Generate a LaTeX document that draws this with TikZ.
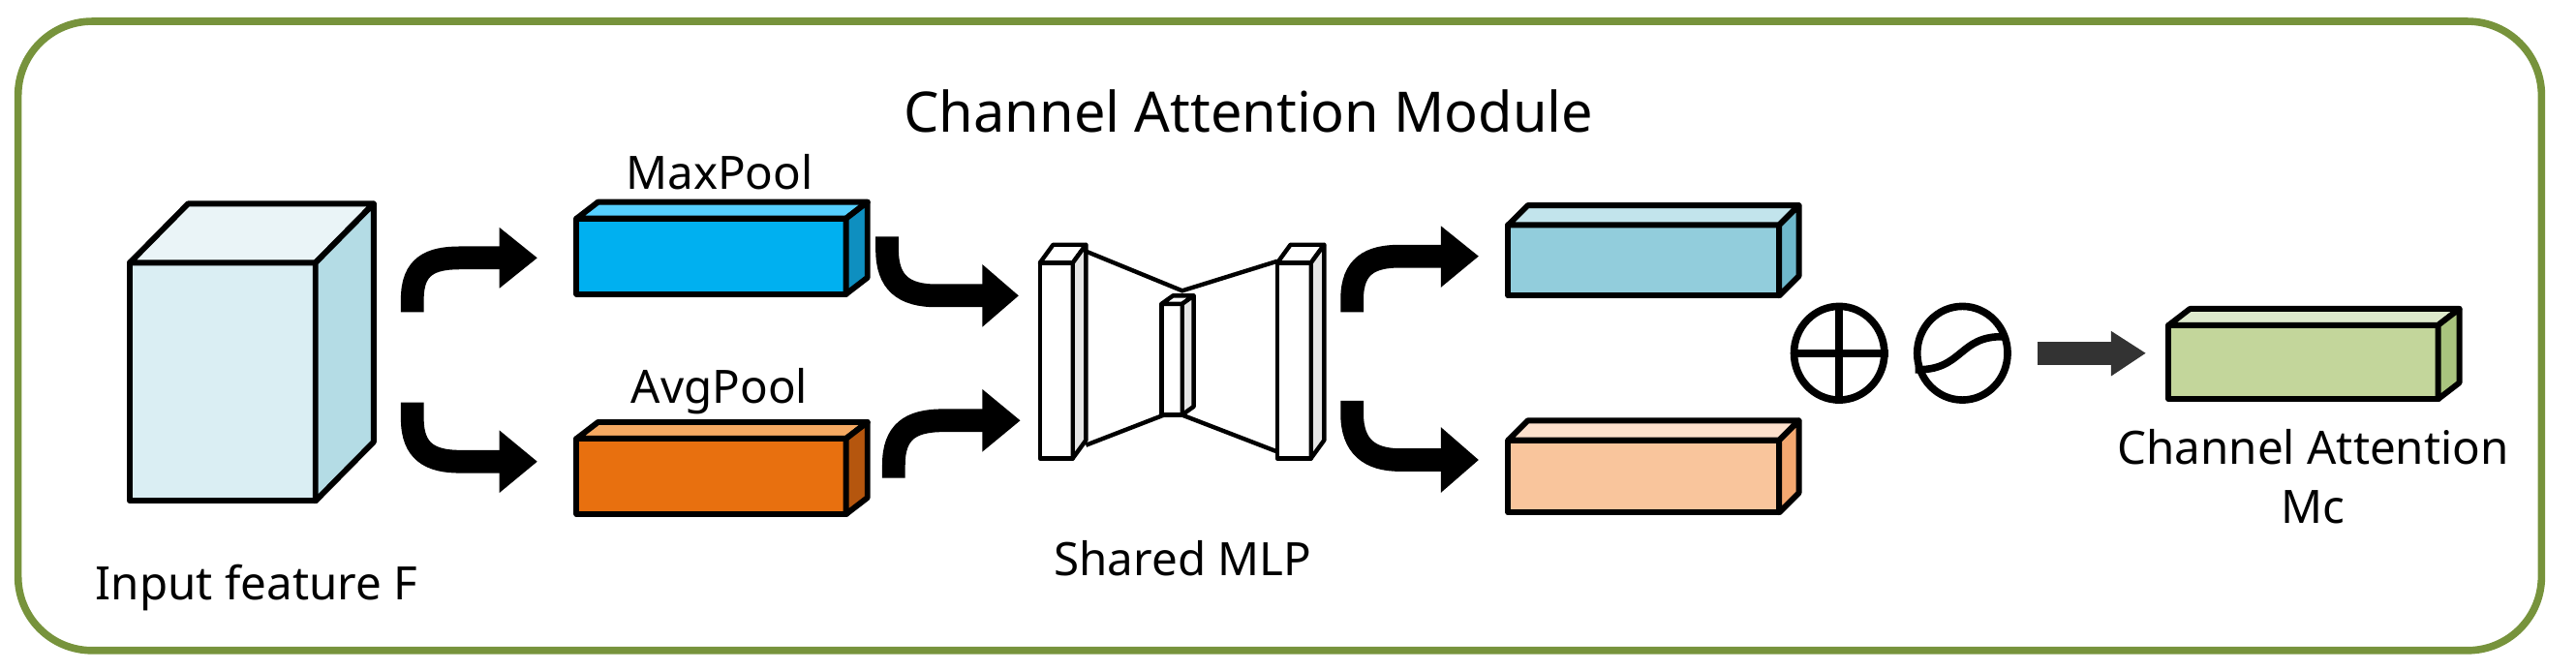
\documentclass[tikz,border=0pt]{standalone}
\usepackage{fontspec}
\setmainfont{Noto Sans}
\usetikzlibrary{shapes.geometric}
\begin{document}
\definecolor{bordergreen}{HTML}{77933C}
\definecolor{cubeF}{HTML}{DAEEF3}\definecolor{cubeT}{HTML}{EAF4F7}\definecolor{cubeS}{HTML}{B4DCE5}
\definecolor{maxF}{HTML}{00B0F0}\definecolor{maxT}{HTML}{55CFFF}\definecolor{maxS}{HTML}{0E8FC0}
\definecolor{avgF}{HTML}{E8700F}\definecolor{avgT}{HTML}{F5A962}\definecolor{avgS}{HTML}{B5560E}
\definecolor{oaF}{HTML}{92CDDC}\definecolor{oaT}{HTML}{C2E4EC}\definecolor{oaS}{HTML}{6FB8CC}
\definecolor{obF}{HTML}{F9C59C}\definecolor{obT}{HTML}{FDE0CC}\definecolor{obS}{HTML}{F4A870}
\definecolor{gF}{HTML}{C3D69B}\definecolor{gT}{HTML}{DDE9CB}\definecolor{gS}{HTML}{A9C47E}
\definecolor{mlpS}{HTML}{E6E6E6}
\newcommand\cuboid[9]{%
  \filldraw[box,fill=#7] (#1,#2) rectangle (#3,#4);
  \filldraw[box,fill=#8] (#1,#2) -- ++(#5,-#6) -- ++(#3-#1,0) -- (#3,#2) -- cycle;
  \filldraw[box,fill=#9] (#3,#2) -- ++(#5,-#6) -- ++(0,#4-#2) -- (#3,#4) -- cycle;}
\begin{tikzpicture}[x=1pt,y=-1pt,
  box/.style={draw=black,line width=3.5pt,line join=round},
  lbl/.style={font=\fontsize{28}{30}\selectfont,inner sep=0pt},
  blk/.style={line width=14pt,draw=black},
  head/.style={fill=black,draw=none},
  op/.style={draw=black,line width=4.5pt}]
\useasboundingbox (0,0) rectangle (1568,408);
\draw[draw=bordergreen,line width=4.5pt,rounded corners=45pt] (11,13) rectangle (1547,396);
\node[font=\fontsize{34}{36}\selectfont,inner sep=0pt] (title) at (760,68) {Channel Attention Module};
% input cube
\cuboid{79}{160}{192}{305}{35.5}{36}{cubeF}{cubeT}{cubeS}
\node[lbl,anchor=base west] (inp) at (58,365) {Input feature \textbf{F}};
% pooled vectors
\cuboid{351}{133}{515}{179}{13}{10}{maxF}{maxT}{maxS}
\cuboid{351}{267}{515}{313}{13}{10}{avgF}{avgT}{avgS}
\node[lbl] (mp) at (438,105) {MaxPool};
\node[lbl] (ap) at (438,238) {AvgPool};
% arrows cube -> pools
\coordinate (a1s) at (251,190); \coordinate (a1t) at (327,157);
\draw[blk] (a1s) -- (251,182) .. controls (251,162) and (262,157) .. (280,157) -- (306,157);
\fill[head] (304,138.5) -- (a1t) -- (304,175.5) -- cycle;
\coordinate (a2s) at (251,245); \coordinate (a2t) at (327,281);
\draw[blk] (a2s) -- (251,255) .. controls (251,275) and (262,281) .. (280,281) -- (306,281);
\fill[head] (304,262) -- (a2t) -- (304,300) -- cycle;
% arrows pools -> MLP
\coordinate (a3s) at (540,144); \coordinate (a3t) at (620,180);
\draw[blk] (a3s) -- (540,152) .. controls (540,172) and (550,180) .. (570,180) -- (600,180);
\fill[head] (598,161) -- (a3t) -- (598,199) -- cycle;
\coordinate (a4s) at (544,291); \coordinate (a4t) at (621,256);
\draw[blk] (a4s) -- (544,283) .. controls (544,263) and (554,256) .. (574,256) -- (600,256);
\fill[head] (598,237) -- (a4t) -- (598,275) -- cycle;
% shared MLP
\begin{scope}[box/.style={draw=black,line width=2.6pt,line join=round}]
\draw[line width=2.6pt] (661,153) -- (719.6,177) -- (777.5,159);
\draw[line width=2.6pt] (661,271) -- (714,250.5) -- (777.5,275);
\cuboid{633}{160}{653}{279}{8}{11}{white}{white}{mlpS}
\cuboid{707}{185}{719.6}{252.5}{7}{5}{white}{white}{mlpS}
\cuboid{777.5}{160}{798}{279}{8}{11}{white}{white}{mlpS}
\end{scope}
\node[lbl] (mlp) at (720,340) {Shared MLP};
% arrows MLP -> outputs
\coordinate (a5s) at (823,190); \coordinate (a5t) at (900,156);
\draw[blk] (a5s) -- (823,182) .. controls (823,162) and (834,156) .. (852,156) -- (879,156);
\fill[head] (877,137.5) -- (a5t) -- (877,175) -- cycle;
\coordinate (a6s) at (823,244); \coordinate (a6t) at (900,280);
\draw[blk] (a6s) -- (823,252) .. controls (823,272) and (834,280) .. (852,280) -- (879,280);
\fill[head] (877,260) -- (a6t) -- (877,300) -- cycle;
% output vectors
\cuboid{918}{137}{1083}{180}{12}{12}{oaF}{oaT}{oaS}
\cuboid{918}{268}{1083}{312}{12}{12}{obF}{obT}{obS}
% operators
\node[op,ellipse,minimum width=55pt,minimum height=57pt,inner sep=0pt] (plus) at (1119.5,215) {};
\draw[op] (plus.north) -- (plus.south) (plus.west) -- (plus.east);
\node[op,ellipse,minimum width=55pt,minimum height=57pt,inner sep=0pt] (sig) at (1194.5,215) {};
\draw[op] (sig.west) ++(1,10) .. controls (1195,226) and (1192,204) .. (1220,205);
\coordinate (g1) at (1240,215); \coordinate (g2) at (1306,215);
\draw[line width=14pt,draw=black!80] (g1) -- (1287,215);
\fill[black!80] (1285,201.5) -- (g2) -- (1285,229) -- cycle;
% result
\cuboid{1320}{198}{1484}{243}{13}{10}{gF}{gT}{gS}
\node[lbl] (ca) at (1408,272) {Channel Attention};
\node[lbl] (mc) at (1408,309) {\textbf{Mc}};
\end{tikzpicture}
\end{document}
